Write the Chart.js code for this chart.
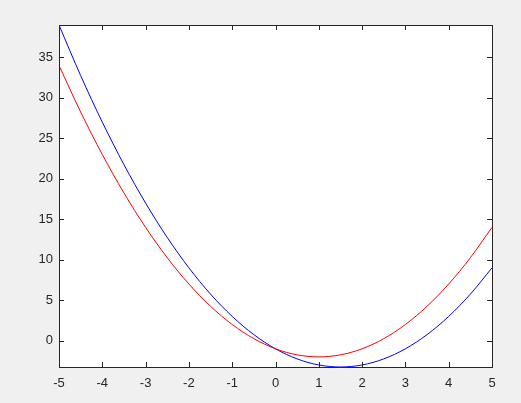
<!DOCTYPE html>
<html>
<head>
<meta charset="utf-8">
<script src="https://cdn.jsdelivr.net/npm/chart.js@4/dist/chart.umd.min.js"></script>
<style>
  body { margin: 0; background: #f0f0f0; }
  canvas { display: block; }
</style>
</head>
<body>
<canvas id="myChart" width="521" height="403"></canvas>
<script>
// values, every 0.5 along x
const xs = [-5, -4.5, -4, -3.5, -3, -2.5, -2, -1.5, -1, -0.5, 0, 0.5, 1, 1.5, 2, 2.5, 3, 3.5, 4, 4.5, 5];
const blueY = [39, 32.75, 27, 21.75, 17, 12.75, 9, 5.75, 3, 0.75, -1, -2.25, -3, -3.25, -3, -2.25, -1, 0.75, 3, 5.75, 9];
const redY = [34, 28.25, 23, 18.25, 14, 10.25, 7, 4.25, 2, 0.25, -1, -1.75, -2, -1.75, -1, 0.25, 2, 4.25, 7, 10.25, 14];
const xTicks = [-5, -4, -3, -2, -1, 0, 1, 2, 3, 4, 5];
const yTicks = [0, 5, 10, 15, 20, 25, 30, 35];

function toPoints(ys) {
    return xs.map((x, i) => ({ x: x, y: ys[i] }));
}

const axisColor = '#262626';

// white plot area, box and inward ticks like the original
const boxPlugin = {
    id: 'box',
    beforeDraw(chart) {
        const a = chart.chartArea;
        const c = chart.ctx;
        c.save();
        c.fillStyle = '#ffffff';
        c.fillRect(a.left, a.top, a.right - a.left, a.bottom - a.top);
        c.restore();
    },
    afterDraw(chart) {
        const a = chart.chartArea;
        const c = chart.ctx;
        const len = 5;
        c.save();
        c.strokeStyle = axisColor;
        c.lineWidth = 1;
        c.beginPath();
        chart.scales.x.ticks.forEach(t => {
            const px = Math.round(chart.scales.x.getPixelForValue(t.value)) + 0.5;
            c.moveTo(px, a.bottom); c.lineTo(px, a.bottom - len);
            c.moveTo(px, a.top); c.lineTo(px, a.top + len);
        });
        chart.scales.y.ticks.forEach(t => {
            const py = Math.round(chart.scales.y.getPixelForValue(t.value)) + 0.5;
            c.moveTo(a.left, py); c.lineTo(a.left + len, py);
            c.moveTo(a.right, py); c.lineTo(a.right - len, py);
        });
        c.stroke();
        c.strokeRect(Math.round(a.left) + 0.5, Math.round(a.top) + 0.5,
            Math.round(a.right - a.left), Math.round(a.bottom - a.top));
        c.restore();
    }
};

const ctx = document.getElementById('myChart').getContext('2d');
const myChart = new Chart(ctx, {
    type: 'line',
    data: {
        datasets: [{
            data: toPoints(redY),
            borderColor: '#ff0000',
            borderWidth: 1,
            pointRadius: 0,
            cubicInterpolationMode: 'monotone'
        }, {
            data: toPoints(blueY),
            borderColor: '#0000ff',
            borderWidth: 1,
            pointRadius: 0,
            cubicInterpolationMode: 'monotone'
        }]
    },
    options: {
        responsive: false,
        animation: false,
        layout: { padding: { top: 25, right: 29, left: 0, bottom: 0 } },
        plugins: { legend: { display: false }, tooltip: { enabled: false } },
        scales: {
            x: {
                type: 'linear',
                min: -5,
                max: 5,
                grid: { display: false, drawTicks: false },
                border: { display: false },
                afterBuildTicks: s => { s.ticks = xTicks.map(v => ({ value: v })); },
                afterFit: s => { s.height = 36; },
                ticks: {
                    color: axisColor,
                    padding: 9,
                    maxRotation: 0,
                    font: { family: 'Liberation Sans', size: 13 }
                }
            },
            y: {
                min: -3.25,
                max: 39,
                grid: { display: false, drawTicks: false },
                border: { display: false },
                afterBuildTicks: s => { s.ticks = yTicks.map(v => ({ value: v })); },
                afterFit: s => { s.width = 59; },
                ticks: {
                    color: axisColor,
                    padding: 6,
                    font: { family: 'Liberation Sans', size: 13 }
                }
            }
        }
    },
    plugins: [boxPlugin]
});
</script>
</body>
</html>
